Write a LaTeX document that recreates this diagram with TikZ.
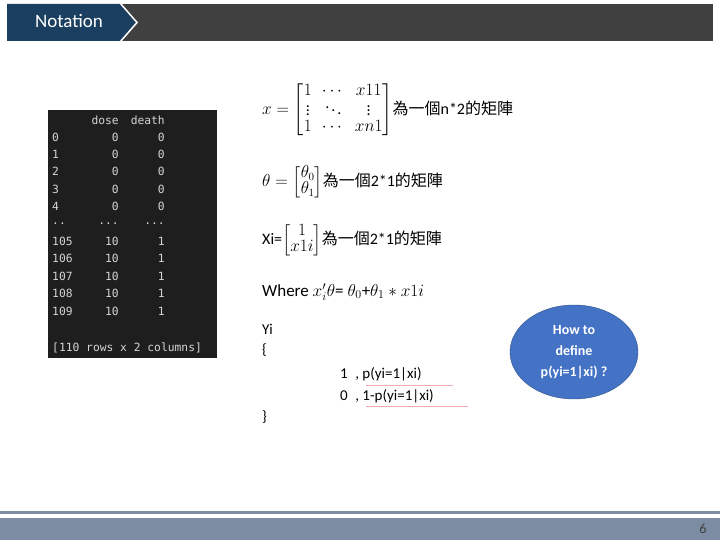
\documentclass[tikz,border=0pt]{standalone}
\usepackage{amsmath}
\usepackage{fontspec}
\usetikzlibrary{shapes.geometric}
\setmainfont{Carlito}
\newfontfamily\cjk{Noto Sans CJK TC}
\newfontfamily\mono{DejaVu Sans Mono}
\definecolor{navy}{HTML}{1B3F60}
\definecolor{darkbar}{HTML}{404040}
\definecolor{foot}{HTML}{7B8CA3}
\definecolor{termbg}{HTML}{1E1E1E}
\definecolor{termfg}{HTML}{D4D4D4}
\definecolor{ovalblue}{HTML}{4472C4}
\definecolor{pinkline}{HTML}{F4A6B4}
\newcommand\dd{..}
\newcommand\ddd{...}
\begin{document}
\begin{tikzpicture}[x=1pt,y=-1pt,
  txt/.style={anchor=west,inner sep=0pt,font=\fontsize{16}{18}\selectfont},
  small/.style={anchor=west,inner sep=0pt,font=\fontsize{15}{17}\selectfont},
  term/.style={inner sep=0pt,text=termfg,font=\mono\fontsize{11.3}{12}\selectfont},
  uline/.style={draw=pinkline,line width=1pt}]
\useasboundingbox (0,0) rectangle (720,540);
\fill[white] (0,0) rectangle (720,540);
% header
\fill[darkbar] (7,4) rectangle (713,41);
\fill[navy] (7,4) -- (120,4) -- (136,22.5) -- (120,41) -- (7,41) -- cycle;
\draw[white,line width=1.5pt] (120,3) -- (137,22.5) -- (120,42);
\node[text=white,font=\fontsize{19}{21}\selectfont,inner sep=0pt] (title) at (69,21) {Notation};
% footer
\fill[foot] (0,511) rectangle (720,514);
\fill[foot] (0,518) rectangle (720,540);
\node[text=darkbar,font=\fontsize{14}{16}\selectfont,inner sep=0pt] (pg) at (703,529) {6};
% terminal
\fill[termbg] (48,110) rectangle (217,358);
\node[term,anchor=east] (hdose) at (119,120) {dose};
\node[term,anchor=east] (hdeath) at (165,120) {death};
\foreach \i/\d/\e [count=\k from 0] in {0/0/0,1/0/0,2/0/0,3/0/0,4/0/0,{\dd}/{\ddd}/{\ddd},105/10/1,106/10/1,107/10/1,108/10/1,109/10/1}{
  \node[term,anchor=west] (r\k) at (52,137+17.4*\k) {\i};
  \node[term,anchor=east] (d\k) at (119,137+17.4*\k) {\d};
  \node[term,anchor=east] (e\k) at (165,137+17.4*\k) {\e};
}
\node[term,anchor=west] (rows) at (52,348) {[110 rows x 2 columns]};
% formulas
\node[txt] (xm) at (262,110) {\renewcommand\arraystretch{0.85}$x=\begin{bmatrix}1 & \cdots & x11\\ \vdots & \ddots & \vdots\\ 1 & \cdots & xn1\end{bmatrix}${\cjk 為一個}n*2{\cjk 的矩陣}};
\node[txt] (th) at (262,182) {\renewcommand\arraystretch{0.85}$\theta=\begin{bmatrix}\theta_0\\ \theta_1\end{bmatrix}${\cjk 為一個}2*1{\cjk 的矩陣}};
\node[txt] (xi) at (262,240) {\renewcommand\arraystretch{0.85}Xi=$\begin{bmatrix}1\\ x1i\end{bmatrix}${\cjk 為一個}2*1{\cjk 的矩陣}};
\node[txt,font=\fontsize{17}{19}\selectfont] (wh) at (262,292) {Where $x_i'\theta$= $\theta_0$+$\theta_1*x1i$};
\node[small] (yi) at (262,329) {Yi};
\node[small] (ob) at (262,350) {\{};
\node[small] (c1) at (340,374) {1\enspace,\ p(yi=1|xi)};
\node[small] (c2) at (340,396) {0\enspace,\ 1-p(yi=1|xi)};
\node[small] (cb) at (262,417) {\}};
\coordinate (u1a) at (366,385); \coordinate (u1b) at (453,385);
\coordinate (u2a) at (366,406); \coordinate (u2b) at (468,406);
\draw[uline] (u1a) -- (u1b);
\draw[uline] (u2a) -- (u2b);
% oval
\node[ellipse,fill=ovalblue,draw=ovalblue!70!black,minimum width=128,minimum height=94,inner sep=0pt,
  text=white,font=\bfseries\fontsize{14}{21}\selectfont,align=center] (oval) at (574,352) {How to\\define\\p(yi=1|xi) ?};
\end{tikzpicture}
\end{document}
